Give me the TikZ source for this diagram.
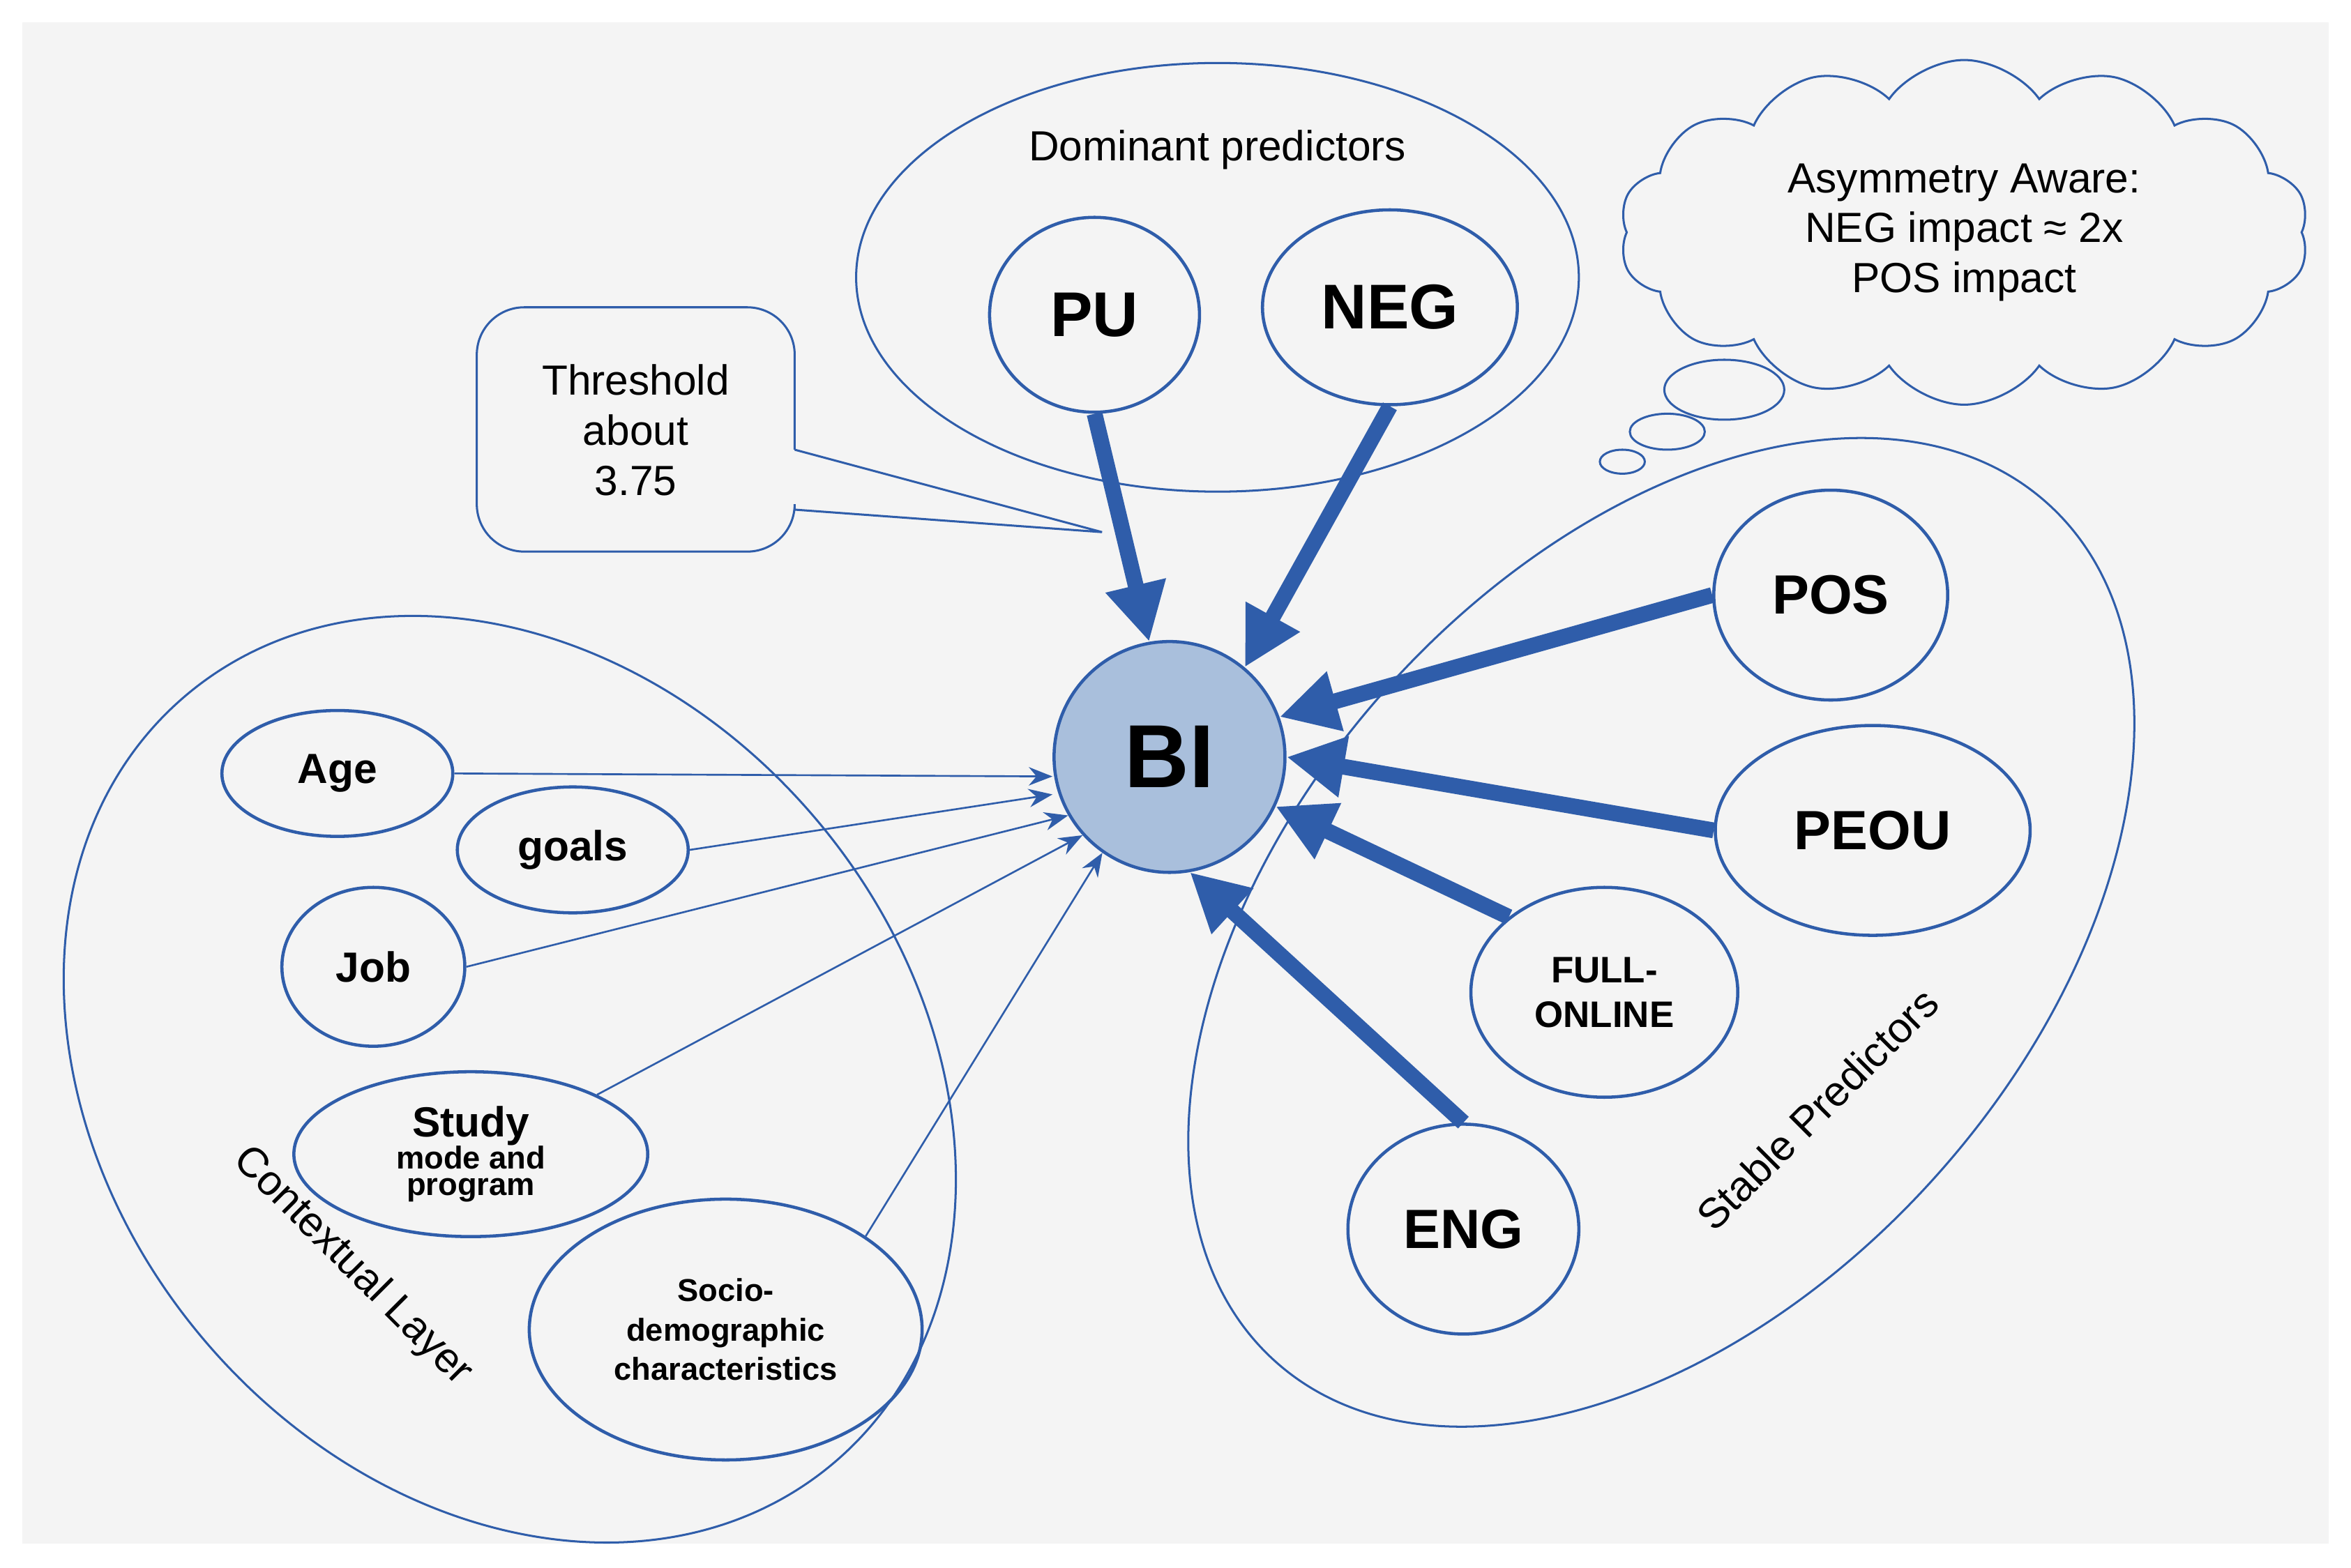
\documentclass[tikz,border=0pt]{standalone}
\usepackage{fontspec}
\setmainfont{Liberation Sans}
\usetikzlibrary{shapes.geometric,shapes.symbols,arrows.meta}
\definecolor{bl}{HTML}{2F5DAA}
\definecolor{bifill}{HTML}{A9BFDC}
\definecolor{bg}{HTML}{F4F4F4}
\begin{document}
\begin{tikzpicture}[x=0.02cm,y=-0.02cm,
  el/.style={draw=bl,line width=1.2pt,ellipse,inner sep=0pt,align=center,font=\bfseries},
  grp/.style={draw=bl,line width=0.8pt},
  thin/.style={draw=bl,line width=0.7pt,-{Stealth[length=9pt,width=7pt]}},
  thick/.style={draw=bl,line width=6pt,-{Triangle[length=22pt,width=22pt]}}]
\useasboundingbox (0,0) rectangle (1568,1046);
\fill[white] (0,0) rectangle (1568,1046);
\fill[bg] (15,15) rectangle (1553,1030);
% groups
\draw[grp] (812,185) ellipse [x radius=241, y radius=143];
\draw[grp,rotate around={48:(1108,622)}] (1108,622) ellipse [x radius=385, y radius=245];
\draw[grp,rotate around={-50:(340,720)}] (340,720) ellipse [x radius=335, y radius=268];
\node[font=\fontsize{16}{18}\selectfont] (dom) at (812,100) {Dominant predictors};
\node[font=\fontsize{16}{18}\selectfont,rotate=-45] (ctx) at (235,845) {Contextual Layer};
\node[font=\fontsize{16}{18}\selectfont,rotate=45] (stb) at (1212,740) {Stable Predictors};
% threshold callout
\draw[grp,rounded corners=18pt] (530,300) -- (530,205) -- (318,205) -- (318,368) -- (530,368) -- (530,340);
\coordinate (tip) at (735,355);
\draw[grp] (530,300) -- (tip) -- (530,340);
\node[align=center,font=\fontsize{16}{19}\selectfont] (thr) at (424,287) {Threshold\\about\\3.75};
% cloud
\node[cloud,draw=bl,line width=0.8pt,cloud puffs=14,cloud puff arc=110,aspect=2.2,inner sep=0pt,minimum width=9.2cm,minimum height=4.6cm,align=center,font=\fontsize{16}{19}\selectfont] (cl) at (1310,155) {Asymmetry Aware:\\NEG impact ≈ 2x\\POS impact};
\draw[grp] (1150,260) ellipse [x radius=40, y radius=20];
\draw[grp] (1112,288) ellipse [x radius=25, y radius=12];
\draw[grp] (1082,308) ellipse [x radius=15, y radius=8];
% nodes
\node[el,fill=bifill,minimum width=154*0.02cm,minimum height=154*0.02cm,font=\bfseries\fontsize{34}{36}\selectfont] (bi) at (780,505) {BI};
\node[el,minimum width=140*0.02cm,minimum height=130*0.02cm,font=\bfseries\fontsize{24}{26}\selectfont] (pu) at (730,210) {PU};
\node[el,minimum width=170*0.02cm,minimum height=130*0.02cm,font=\bfseries\fontsize{24}{26}\selectfont] (neg) at (927,205) {NEG};
\node[el,minimum width=154*0.02cm,minimum height=84*0.02cm,font=\bfseries\fontsize{16}{18}\selectfont] (age) at (225,516) {Age};
\node[el,minimum width=154*0.02cm,minimum height=84*0.02cm,font=\bfseries\fontsize{16}{18}\selectfont] (goals) at (382,567) {goals};
\node[el,minimum width=122*0.02cm,minimum height=106*0.02cm,font=\bfseries\fontsize{16}{18}\selectfont] (job) at (249,645) {Job};
\node[el,minimum width=236*0.02cm,minimum height=110*0.02cm] (study) at (314,770) {{\fontsize{16}{18}\selectfont Study}\\[-1pt]{\fontsize{12}{14}\selectfont mode and}\\[-2pt]{\fontsize{12}{14}\selectfont program}};
\node[el,minimum width=262*0.02cm,minimum height=174*0.02cm,font=\bfseries\fontsize{12}{15}\selectfont] (soc) at (484,887) {Socio-\\demographic\\characteristics};
\node[el,minimum width=156*0.02cm,minimum height=140*0.02cm,font=\bfseries\fontsize{21}{23}\selectfont] (pos) at (1221,397) {POS};
\node[el,minimum width=210*0.02cm,minimum height=140*0.02cm,font=\bfseries\fontsize{21}{23}\selectfont] (peou) at (1249,554) {PEOU};
\node[el,minimum width=178*0.02cm,minimum height=140*0.02cm,font=\bfseries\fontsize{14}{17}\selectfont] (full) at (1070,662) {FULL-\\ONLINE};
\node[el,minimum width=154*0.02cm,minimum height=140*0.02cm,font=\bfseries\fontsize{21}{23}\selectfont] (eng) at (976,820) {ENG};
% thin arrows
\draw[thin] (age.east) -- ([yshift=-13*0.02cm]bi.west);
\draw[thin] (goals.east) -- ([yshift=-25*0.02cm]bi.west);
\draw[thin] (job.east) -- (bi.210);
\draw[thin] (study.north east) -- (bi.222);
\draw[thin] (soc.north east) -- (bi.235);
% thick arrows
\draw[thick] (pu.south) -- (bi.100);
\draw[thick] (neg.south) -- (bi.50);
\draw[thick] (pos.west) -- (bi.20);
\draw[thick] (peou.west) -- (bi.0);
\draw[thick] (full.north west) -- (bi.-25);
\draw[thick] (eng.north) -- (bi.-80);
\end{tikzpicture}
\end{document}
